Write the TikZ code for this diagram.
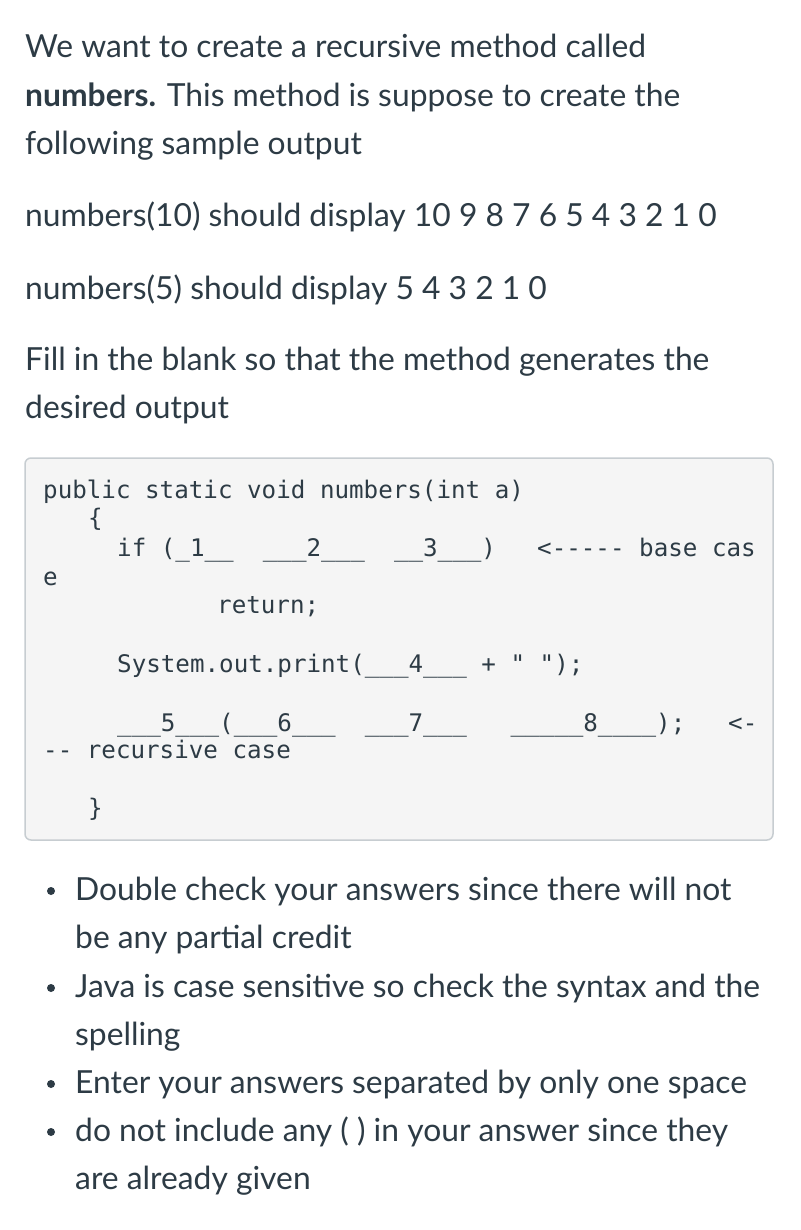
\documentclass[tikz,border=0pt]{standalone}
\usepackage{fontspec}
\setmainfont{Lato}
\newfontfamily\codef{DejaVu Sans Mono}
\definecolor{txt}{HTML}{2D3B45}
\definecolor{codebg}{HTML}{F5F5F5}
\definecolor{codebd}{HTML}{C7CDD1}
\begin{document}
\begin{tikzpicture}[x=1pt,y=-1pt,
  body/.style={anchor=base west,inner sep=0pt,text=txt,font=\fontsize{31.8}{38}\selectfont},
  code/.style={anchor=base west,inner sep=0pt,text=txt,font=\codef\fontsize{24.2}{28}\selectfont}]
\useasboundingbox[fill=white] (0,0) rectangle (800,1230);
\node[body] (t1) at (25,58) {We want to create a recursive method called};
\node[body] (t2) at (25,107) {\textbf{numbers.} This method is suppose to create the};
\node[body] (t3) at (25,155) {following sample output};
\node[body] (t4) at (25,227) {numbers(10) should display 10 9 8 7 6 5 4 3 2 1 0};
\node[body] (t5) at (25,299) {numbers(5) should display 5 4 3 2 1 0};
\node[body] (t6) at (25,370) {Fill in the blank so that the method generates the};
\node[body] (t7) at (25,418) {desired output};
\draw[codebd,fill=codebg,line width=1.5pt,rounded corners=6pt] (25,458) rectangle (773,840);
\node[code] (c1) at (43,498) {public static void numbers(int a)};
\node[code] (c2) at (88,526) {\{};
\node[code] (c3) at (117,556) {if (\_1\_\_ \ \_\_\_2\_\_\_ \ \_\_3\_\_\_)};
\node[code] (c3b) at (537,556) {<{-}{-}{-}{-}{-} base cas};
\node[code] (c4) at (43,585) {e};
\node[code] (c5) at (217,613) {return;};
\node[code] (c6) at (117,672) {System.out.print(\_\_\_4\_\_\_ + " ");};
\node[code] (c7) at (117,731) {\_\_\_5\_\_\_(\_\_\_6\_\_\_ \ \_\_\_7\_\_\_ \ \ \_\_\_\_\_8\_\_\_\_);};
\node[code] (c7b) at (728,731) {<-};
\node[code] (c8) at (43,758) {{-}{-} recursive case};
\node[code] (c9) at (88,816) {\}};
\foreach \y/\s [count=\i] in {900/{Double check your answers since there will not},
  997/{Java is case sensitive so check the syntax and the},
  1093/{Enter your answers separated by only one space},
  1141/{do not include any ( ) in your answer since they}}{
  \fill[txt] (51,\y-9) circle (4);
  \node[body] (b\i) at (75,\y) {\s};
}
\node[body] (b1b) at (75,948) {be any partial credit};
\node[body] (b2b) at (75,1045) {spelling};
\node[body] (b4b) at (75,1189) {are already given};
\end{tikzpicture}
\end{document}
